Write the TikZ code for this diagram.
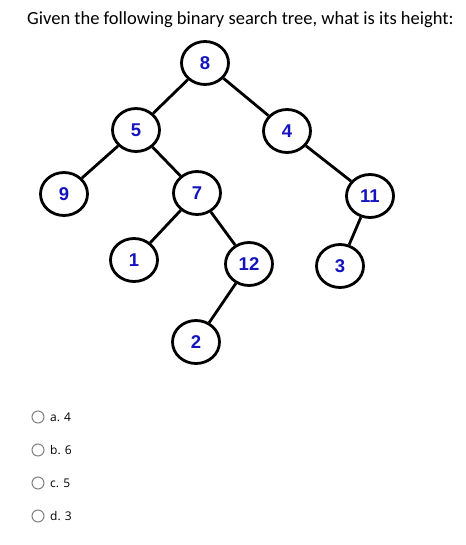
\documentclass[tikz,border=0pt]{standalone}
\usepackage{fontspec}
\setmainfont{Carlito}
\newfontfamily\keyfont{Liberation Sans}
\newfontfamily\optfont{Open Sans}
\usetikzlibrary{shapes.geometric}
\definecolor{keyblue}{RGB}{20,20,190}
\definecolor{radiogray}{RGB}{128,128,128}
\tikzset{
  treenode/.style={draw, ellipse, line width=2.8pt, minimum width=47pt,
    minimum height=43pt, inner sep=0pt, fill=white,
    font=\keyfont\bfseries\fontsize{18.5}{18.5}\selectfont, text=keyblue},
  treeedge/.style={line width=2.8pt},
  radio/.style={draw=radiogray, circle, line width=1pt, minimum size=12pt, inner sep=0pt},
  optlabel/.style={anchor=west, inner sep=0pt, font=\optfont\fontsize{12}{12}\selectfont}
}
\begin{document}
\begin{tikzpicture}[x=1pt, y=-1pt]
  \useasboundingbox (0,0) rectangle (465,545);
  % Question
  \node[anchor=west, inner sep=0pt, font=\fontsize{18.5}{19}\selectfont] (question)
    at (27,20) {Given the following binary search tree, what is its height:};
  % Tree nodes
  \node[treenode] (n8)  at (205,63)  {8};
  \node[treenode] (n5)  at (136,130) {5};
  \node[treenode] (n4)  at (287,131) {4};
  \node[treenode] (n9)  at (64,194)  {9};
  \node[treenode] (n7)  at (197,193) {7};
  \node[treenode] (n11) at (370,196) {11};
  \node[treenode] (n1)  at (134,260) {1};
  \node[treenode] (n12) at (249,264) {12};
  \node[treenode] (n3)  at (340,266) {3};
  \node[treenode] (n2)  at (196,342) {2};
  % Tree edges
  \draw[treeedge] (n8) -- (n5);
  \draw[treeedge] (n8) -- (n4);
  \draw[treeedge] (n5) -- (n9);
  \draw[treeedge] (n5) -- (n7);
  \draw[treeedge] (n4) -- (n11);
  \draw[treeedge] (n7) -- (n1);
  \draw[treeedge] (n7) -- (n12);
  \draw[treeedge] (n12) -- (n2);
  \draw[treeedge] (n11) -- (n3);
  % Answer options
  \node[radio] (ra) at (38,417) {};
  \node[optlabel] (la) at (50,417) {a. 4};
  \node[radio] (rb) at (38,450) {};
  \node[optlabel] (lb) at (50,450) {b. 6};
  \node[radio] (rc) at (38,483) {};
  \node[optlabel] (lc) at (50,483) {c. 5};
  \node[radio] (rd) at (38,516) {};
  \node[optlabel] (ld) at (50,516) {d. 3};
\end{tikzpicture}
\end{document}
